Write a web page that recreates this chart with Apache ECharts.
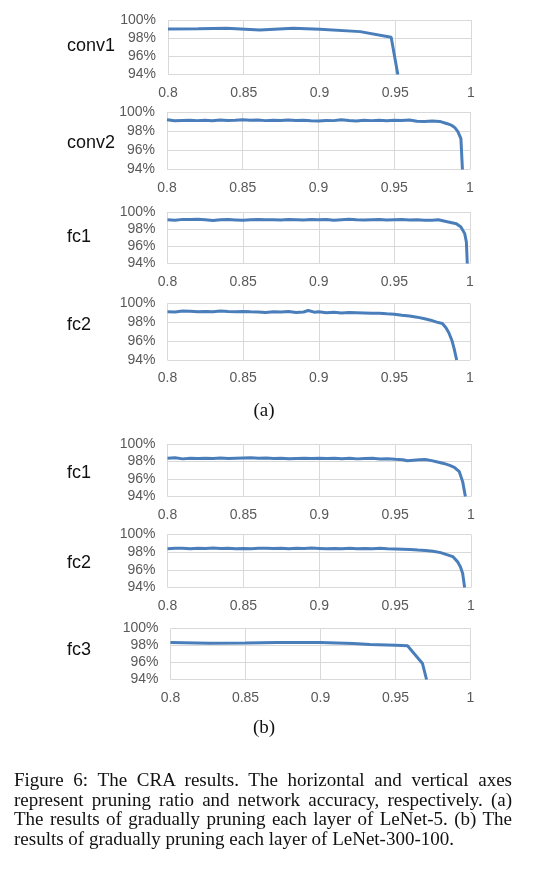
<!DOCTYPE html>
<html>
<head>
<meta charset="utf-8">
<script src="https://cdn.jsdelivr.net/npm/echarts@6/dist/echarts.min.js"></script>
<style>
  html, body { margin: 0; padding: 0; background: #fff; }
  #chart { position: absolute; left: 0; top: 0; width: 540px; height: 872px; }
  #caption {
    position: absolute; left: 14px; top: 770px; width: 498px;
    font-family: "Liberation Serif", serif; font-size: 19px; line-height: 19.5px; color: #111;
  }
  #caption .j { text-align: justify; text-align-last: justify; }
</style>
</head>
<body>
<div id="chart"></div>
<div id="caption">
  <div class="j">Figure 6: The CRA results. The horizontal and vertical axes</div>
  <div class="j">represent pruning ratio and network accuracy, respectively. (a)</div>
  <div class="j">The results of gradually pruning each layer of LeNet-5. (b) The</div>
  <div>results of gradually pruning each layer of LeNet-300-100.</div>
</div>
<script>
// pruning ratio vs accuracy (%) for each layer
const layerNames = ['conv1', 'conv2', 'fc1', 'fc2', 'fc1', 'fc2', 'fc3'];
const yTicks = ['94%', '96%', '98%', '100%'];

const conv1A = [
  [0.8, 99.0], [0.82, 99.04], [0.8386, 99.1], [0.8606, 98.9], [0.8827, 99.08],
  [0.9003, 98.97], [0.9268, 98.72], [0.9473, 98.09], [0.9517, 94.0]
];

const conv2A = [
  [0.8, 99.18], [0.805, 99.08], [0.81, 99.12], [0.815, 99.15], [0.82, 99.1],
  [0.825, 99.14], [0.83, 99.09], [0.835, 99.16], [0.84, 99.12], [0.845, 99.15],
  [0.85, 99.19], [0.855, 99.13], [0.86, 99.16], [0.865, 99.1], [0.87, 99.14],
  [0.875, 99.11], [0.88, 99.17], [0.885, 99.12], [0.89, 99.15], [0.895, 99.09],
  [0.9, 99.06], [0.905, 99.12], [0.91, 99.1], [0.915, 99.18], [0.92, 99.11],
  [0.925, 99.07], [0.93, 99.13], [0.935, 99.1], [0.94, 99.14], [0.945, 99.09],
  [0.95, 99.15], [0.955, 99.11], [0.96, 99.17], [0.965, 99.03], [0.97, 99.0],
  [0.975, 99.06], [0.98, 99.02], [0.985, 98.78], [0.988, 98.6], [0.99, 98.37],
  [0.992, 97.95], [0.994, 97.22], [0.995, 94.0]
];

const fc1A = [
  [0.8, 99.1], [0.805, 99.05], [0.81, 99.14], [0.815, 99.12], [0.82, 99.16],
  [0.825, 99.11], [0.83, 99.02], [0.835, 99.1], [0.84, 99.13], [0.845, 99.08],
  [0.85, 99.03], [0.855, 99.1], [0.86, 99.12], [0.865, 99.09], [0.87, 99.11],
  [0.875, 99.07], [0.88, 99.14], [0.885, 99.1], [0.89, 99.06], [0.895, 99.12],
  [0.9, 99.1], [0.905, 99.13], [0.91, 99.04], [0.915, 99.11], [0.92, 99.16],
  [0.925, 99.1], [0.93, 99.07], [0.935, 99.1], [0.94, 99.12], [0.945, 99.08],
  [0.95, 99.11], [0.955, 99.14], [0.96, 99.06], [0.965, 99.09], [0.97, 99.05],
  [0.975, 99.04], [0.979, 99.1], [0.985, 98.86], [0.991, 98.64], [0.994, 98.26],
  [0.9965, 97.48], [0.9976, 96.5], [0.9982, 94.0]
];

const fc2A = [
  [0.8, 99.12], [0.805, 99.1], [0.81, 99.2], [0.815, 99.17], [0.82, 99.12],
  [0.825, 99.16], [0.83, 99.13], [0.835, 99.2], [0.84, 99.14], [0.845, 99.12],
  [0.85, 99.16], [0.855, 99.12], [0.86, 99.1], [0.865, 99.05], [0.87, 99.12],
  [0.875, 99.1], [0.88, 99.15], [0.885, 99.04], [0.89, 99.1], [0.893, 99.26],
  [0.897, 99.08], [0.9, 99.12], [0.905, 99.02], [0.91, 99.06], [0.915, 99.0],
  [0.92, 99.04], [0.925, 99.02], [0.93, 99.0], [0.935, 98.97], [0.94, 98.96],
  [0.945, 98.9], [0.95, 98.87], [0.955, 98.76], [0.96, 98.68], [0.965, 98.55],
  [0.97, 98.38], [0.974, 98.23], [0.978, 98.02], [0.9817, 97.88], [0.984, 97.45],
  [0.986, 96.9], [0.988, 96.1], [0.9895, 95.2], [0.9912, 94.0]
];

const fc1B = [
  [0.8, 98.38], [0.805, 98.42], [0.81, 98.3], [0.815, 98.36], [0.82, 98.33],
  [0.825, 98.38], [0.83, 98.35], [0.835, 98.4], [0.84, 98.34], [0.845, 98.37],
  [0.85, 98.4], [0.855, 98.43], [0.86, 98.36], [0.865, 98.4], [0.87, 98.33],
  [0.875, 98.38], [0.88, 98.31], [0.885, 98.35], [0.89, 98.38], [0.895, 98.33],
  [0.9, 98.36], [0.905, 98.34], [0.91, 98.38], [0.915, 98.32], [0.92, 98.36],
  [0.925, 98.3], [0.93, 98.35], [0.935, 98.38], [0.94, 98.28], [0.945, 98.32],
  [0.95, 98.25], [0.955, 98.2], [0.958, 98.08], [0.962, 98.14], [0.966, 98.2],
  [0.97, 98.22], [0.974, 98.1], [0.978, 97.95], [0.982, 97.78], [0.986, 97.55],
  [0.989, 97.33], [0.9923, 96.84], [0.9945, 95.7], [0.9963, 94.0]
];

const fc2B = [
  [0.8, 98.4], [0.805, 98.43], [0.81, 98.45], [0.815, 98.4], [0.82, 98.44],
  [0.825, 98.41], [0.83, 98.46], [0.835, 98.42], [0.84, 98.44], [0.845, 98.4],
  [0.85, 98.42], [0.855, 98.39], [0.86, 98.43], [0.865, 98.45], [0.87, 98.41],
  [0.875, 98.44], [0.88, 98.4], [0.885, 98.43], [0.89, 98.41], [0.895, 98.46],
  [0.9, 98.42], [0.905, 98.38], [0.91, 98.41], [0.915, 98.39], [0.92, 98.43],
  [0.925, 98.4], [0.93, 98.42], [0.935, 98.39], [0.94, 98.43], [0.945, 98.38],
  [0.95, 98.36], [0.955, 98.33], [0.96, 98.3], [0.965, 98.24], [0.97, 98.2],
  [0.975, 98.1], [0.98, 97.95], [0.9845, 97.7], [0.988, 97.5], [0.9912, 96.9],
  [0.993, 96.35], [0.9945, 95.6], [0.9958, 94.0]
];

const fc3B = [
  [0.8, 98.35], [0.826, 98.27], [0.85, 98.3], [0.871, 98.35], [0.9, 98.35],
  [0.922, 98.24], [0.933, 98.12], [0.95, 98.04], [0.958, 97.96], [0.968, 95.88],
  [0.9707, 94.0]
];

const allSeries = [conv1A, conv2A, fc1A, fc2A, fc1B, fc2B, fc3B];

// plot boxes (px) and label rows
const boxes = [
  { left: 168, right: 69, top: 20, height: 54.5 },
  { left: 167, right: 70, top: 112, height: 57.5 },
  { left: 167.5, right: 70, top: 212, height: 51.5 },
  { left: 167.5, right: 70, top: 303.5, height: 56.5 },
  { left: 167.5, right: 69, top: 444, height: 52.5 },
  { left: 167.5, right: 69, top: 534.5, height: 53 },
  { left: 170.5, right: 69.5, top: 628.5, height: 51 }
];
const labelRows = [46, 143, 237, 325, 473, 563, 650];

const lineColor = '#4a7ebb';
const gridColor = '#d9d9d9';
const tickColor = '#595959';
const sans = '"Liberation Sans", Arial, sans-serif';
const serif = '"Liberation Serif", serif';

const chart = echarts.init(document.getElementById('chart'));

const option = {
  animation: false,
  grid: boxes.map((b) => ({ ...b, containLabel: false })),
  xAxis: boxes.map((b, i) => ({
    type: 'value',
    gridIndex: i,
    min: 0.8,
    max: 1,
    interval: 0.05,
    axisLine: { show: false },
    axisTick: { show: false },
    splitLine: { show: true, lineStyle: { color: gridColor, width: 1 } },
    axisLabel: {
      color: tickColor,
      fontSize: 14,
      fontFamily: sans,
      margin: 11.5,
      formatter: (v) => String(+v.toFixed(2))
    }
  })),
  yAxis: boxes.map((b, i) => ({
    type: 'value',
    gridIndex: i,
    min: 94,
    max: 100,
    interval: 2,
    axisLine: { show: false },
    axisTick: { show: false },
    splitLine: { show: true, lineStyle: { color: gridColor, width: 1 } },
    axisLabel: {
      color: tickColor,
      fontSize: 14,
      fontFamily: sans,
      margin: 12,
      formatter: (v) => yTicks[(v - 94) / 2]
    }
  })),
  series: allSeries.map((data, i) => ({
    type: 'line',
    xAxisIndex: i,
    yAxisIndex: i,
    data: data,
    symbol: 'none',
    lineStyle: { color: lineColor, width: 3 }
  })),
  graphic: layerNames.map((name, i) => ({
    type: 'text',
    x: 67,
    y: labelRows[i],
    style: {
      text: name,
      fill: '#111',
      font: '18px ' + sans,
      verticalAlign: 'middle'
    }
  })).concat([
    { type: 'text', x: 264, y: 411, style: { text: '(a)', fill: '#111', font: '19px ' + serif, align: 'center', verticalAlign: 'middle' } },
    { type: 'text', x: 264, y: 728, style: { text: '(b)', fill: '#111', font: '19px ' + serif, align: 'center', verticalAlign: 'middle' } }
  ])
};

chart.setOption(option);
window.onresize = function () {
  chart.resize();
};
</script>
</body>
</html>
